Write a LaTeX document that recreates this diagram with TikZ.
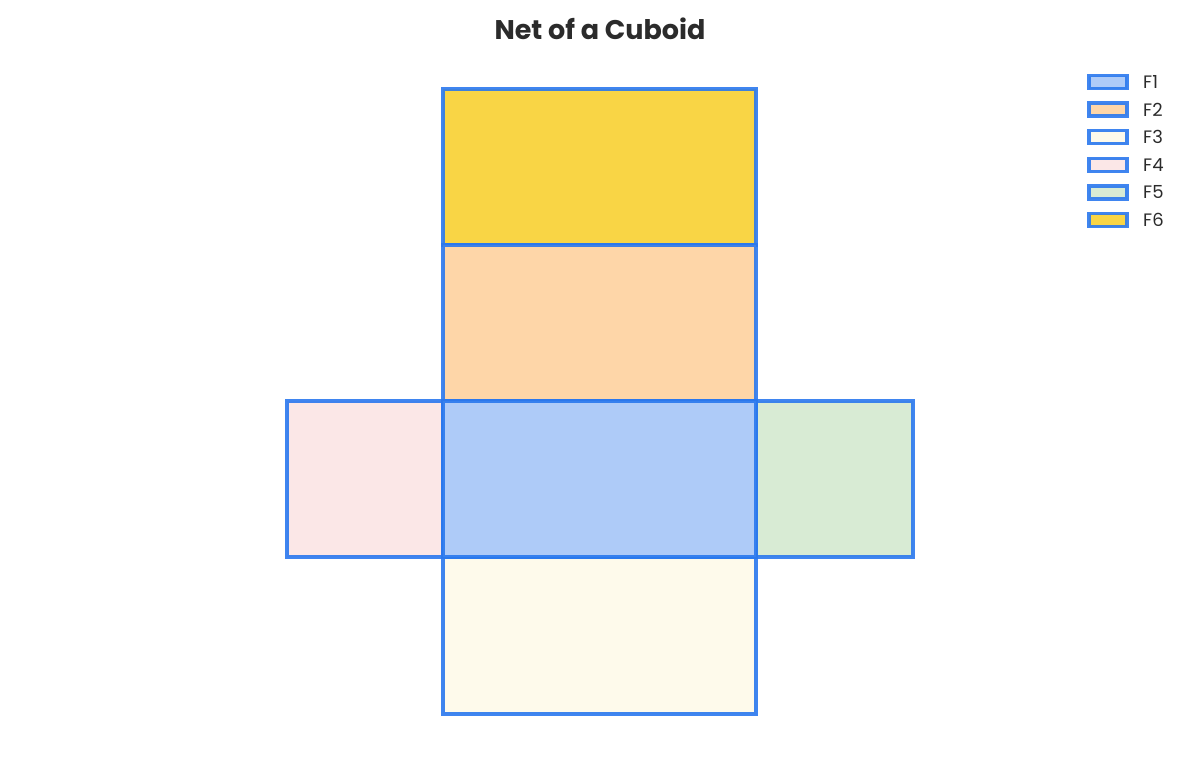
\documentclass[tikz,border=0pt]{standalone}
\usepackage{fontspec}
\setmainfont{Poppins}
\begin{document}
\begin{tikzpicture}[x=1pt,y=-1pt,
  face/.style={draw=edgeblue,draw opacity=0.9,line width=3.3pt},
  swatch/.style={draw=edgeblue,draw opacity=0.9,line width=3.3pt,minimum width=38pt,minimum height=13pt,inner sep=0pt},
  legtext/.style={font=\fontsize{18}{21}\selectfont,text=labelgray,anchor=west,inner sep=0pt}]
\definecolor{edgeblue}{HTML}{2A78EE}
\definecolor{labelgray}{HTML}{2B2B2B}
\definecolor{cF1}{HTML}{AECBF8}
\definecolor{cF2}{HTML}{FED6A8}
\definecolor{cF3}{HTML}{FEFAEB}
\definecolor{cF4}{HTML}{FBE7E7}
\definecolor{cF5}{HTML}{D8EBD4}
\definecolor{cF6}{HTML}{F9D545}
\useasboundingbox (0,0) rectangle (1200,763);
\node[font=\fontsize{27}{31}\selectfont\bfseries,text=labelgray] (title) at (600,29) {Net of a Cuboid};
% faces
\path[face,fill=cF6] (443,89) rectangle (756,245);
\path[face,fill=cF2] (443,245) rectangle (756,401);
\path[face,fill=cF4] (287,401) rectangle (443,557);
\path[face,fill=cF5] (756,401) rectangle (913,557);
\path[face,fill=cF3] (443,557) rectangle (756,714);
\path[face,fill=cF1] (443,401) rectangle (756,557);
% legend
\foreach \i/\c in {1/cF1,2/cF2,3/cF3,4/cF4,5/cF5,6/cF6}{
  \node[swatch,fill=\c] (sw\i) at (1108,{82+27.6*(\i-1)}) {};
  \node[legtext] (lab\i) at (1143,{82+27.6*(\i-1)}) {F\i};
}
\end{tikzpicture}
\end{document}
